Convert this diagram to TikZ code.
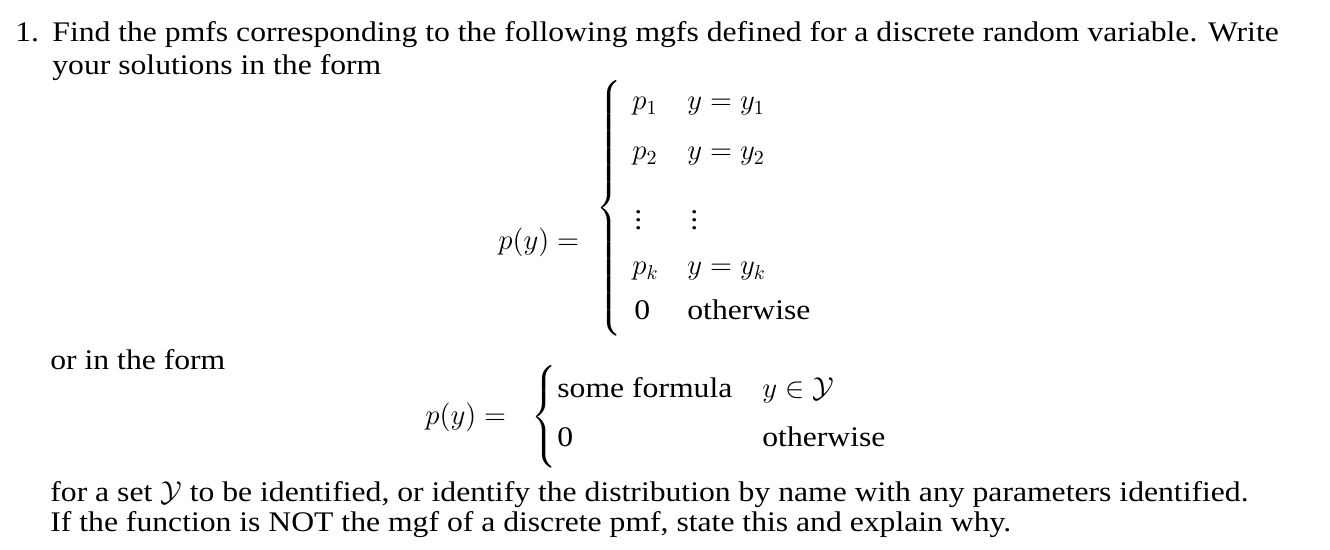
\documentclass[tikz,border=0pt]{standalone}
\usepackage{fontspec}
\usepackage{amsmath,amssymb}
\setmainfont{Liberation Serif}[FakeStretch=1.115]
\begin{document}
\begin{tikzpicture}[x=0.5pt,y=-0.5pt,t/.style={anchor=base west,inner sep=0pt,font=\fontsize{14.2}{16}\selectfont}]
\useasboundingbox (0,0) rectangle (1330,550);
\node[t] (n1) at (15,42) {1.};
\node[t] (l1) at (52,42) {Find the pmfs corresponding to the following mgfs defined for a discrete random variable. Write};
\node[t] (l2) at (52,75) {your solutions in the form};
\node[t] (py1) at (498,250) {$p(y)=$};
\node[inner sep=0pt] (b1) at (610,208) {\fontsize{14.2}{16}\selectfont$\left\{\rule{0pt}{60pt}\rule[-60pt]{0pt}{0pt}\right.$};
\node[t] (a1) at (632,110) {$p_1$};
\node[t] (c1) at (687,110) {$y=y_1$};
\node[t] (a2) at (632,160) {$p_2$};
\node[t] (c2) at (687,160) {$y=y_2$};
\node[t] (a3) at (634,230) {$\vdots$};
\node[t] (c3) at (690,230) {$\vdots$};
\node[t] (a4) at (632,275) {$p_k$};
\node[t] (c4) at (687,275) {$y=y_k$};
\node[t] (a5) at (634,320) {0};
\node[t] (c5) at (687,320) {otherwise};
\node[t] (or) at (50,370) {or in the form};
\node[t] (py2) at (425,425) {$p(y)=$};
\node[inner sep=0pt] (b2) at (545,417) {\fontsize{14.2}{16}\selectfont$\left\{\rule{0pt}{21pt}\rule[-21pt]{0pt}{0pt}\right.$};
\node[t] (s1) at (557,398) {some formula};
\node[t] (s2) at (762,398) {$y\in\mathcal{Y}$};
\node[t] (s3) at (557,447) {0};
\node[t] (s4) at (762,447) {otherwise};
\node[t] (l3) at (50,502) {for a set $\mathcal{Y}$ to be identified, or identify the distribution by name with any parameters identified.};
\node[t] (l4) at (50,532) {If the function is NOT the mgf of a discrete pmf, state this and explain why.};
\end{tikzpicture}
\end{document}
